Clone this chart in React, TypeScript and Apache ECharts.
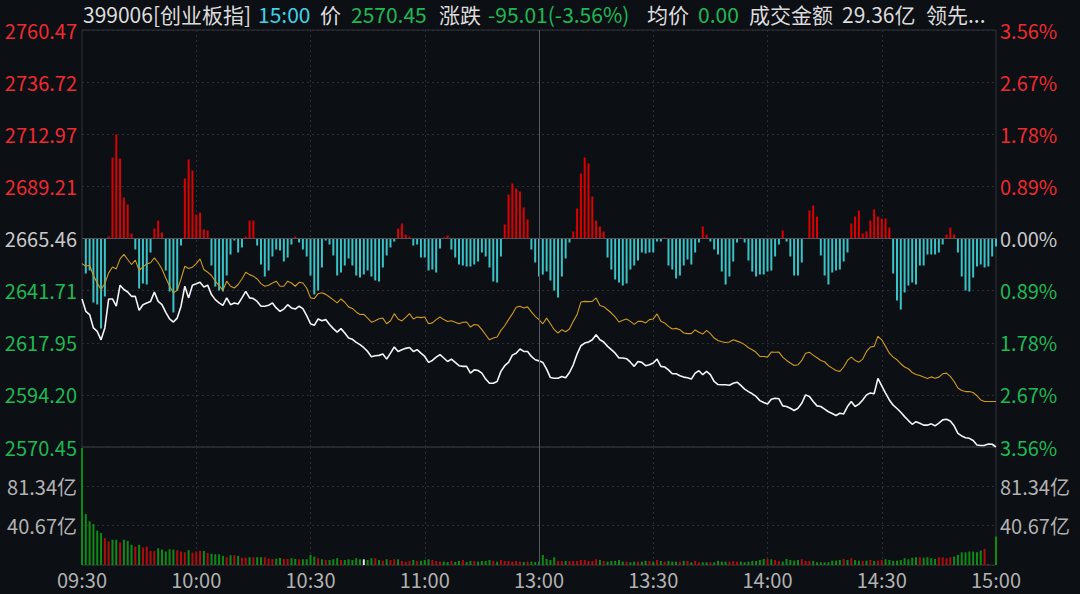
import { useEffect, useRef } from "react";
import * as echarts from "echarts";

// ---------- data ----------
const priceTicks = ["2760.47", "2736.72", "2712.97", "2689.21", "2665.46", "2641.71", "2617.95", "2594.20", "2570.45"];
const pctTicks = ["3.56%", "2.67%", "1.78%", "0.89%", "0.00%", "0.89%", "1.78%", "2.67%", "3.56%"];
const volumeTicks = ["40.67亿", "81.34亿"];
const timeTicks = ["09:30", "10:00", "10:30", "11:00", "13:00", "13:30", "14:00", "14:30", "15:00"];
const priceMin = 2570.45;
const priceMax = 2760.47;
const volumeStep = 40.67;
const volumeMax = 122.01;
const leadRange = 208.5;

const headerTexts = [
  { text: "399006[创业板指]", kind: "label" },
  { text: "15:00", kind: "time" },
  { text: "价", kind: "label" },
  { text: "2570.45", kind: "down" },
  { text: "涨跌", kind: "label" },
  { text: "-95.01(-3.56%)", kind: "down" },
  { text: "均价", kind: "label" },
  { text: "0.00", kind: "down" },
  { text: "成交金额", kind: "label" },
  { text: "29.36亿", kind: "label" },
  { text: "领先...", kind: "label" },
];

const prices = [
  2637.9, 2632.3, 2630.8, 2624.7, 2623.1, 2619.3, 2624.7, 2637.9, 2637.9, 2634.6,
  2644.2, 2642.2, 2641.1, 2639.1, 2639.1, 2632.7, 2635.3, 2636.1, 2636.8, 2641.0,
  2636.8, 2635.3, 2631.8, 2628.8, 2627.4, 2629.2, 2634.6, 2643.7, 2638.4, 2644.2,
  2644.8, 2645.5, 2643.4, 2644.2, 2639.9, 2637.6, 2636.1, 2635.0, 2638.4, 2635.3,
  2636.1, 2635.6, 2638.4, 2641.4, 2638.4, 2638.1, 2636.8, 2634.6, 2634.6, 2635.0,
  2636.1, 2633.8, 2632.3, 2633.3, 2635.3, 2633.8, 2633.3, 2634.6, 2633.5, 2630.3,
  2626.6, 2625.9, 2628.8, 2628.0, 2628.5, 2626.3, 2624.4, 2622.8, 2624.4, 2622.4,
  2620.1, 2619.5, 2618.1, 2617.1, 2615.7, 2614.0, 2611.6, 2612.0, 2612.2, 2612.8,
  2610.5, 2613.2, 2616.0, 2614.0, 2614.8, 2615.4, 2615.8, 2614.0, 2614.8, 2613.2,
  2611.7, 2609.0, 2609.9, 2611.4, 2612.5, 2611.0, 2609.4, 2610.5, 2609.0, 2607.5,
  2607.2, 2607.2, 2604.1, 2605.6, 2605.3, 2604.1, 2601.4, 2599.5, 2599.5, 2600.3,
  2604.9, 2607.5, 2609.0, 2612.3, 2613.2, 2615.1, 2614.0, 2614.0, 2611.7, 2610.2,
  2609.7, 2609.0, 2605.9, 2602.1, 2601.8, 2601.8, 2602.6, 2602.0, 2604.4, 2607.9,
  2612.8, 2616.6, 2617.8, 2618.3, 2619.3, 2621.6, 2619.3, 2618.3, 2616.3, 2614.8,
  2613.2, 2611.0, 2611.0, 2610.7, 2609.1, 2607.2, 2609.4, 2609.0, 2607.5, 2607.9,
  2608.7, 2610.5, 2607.2, 2606.9, 2605.6, 2603.8, 2603.8, 2602.9, 2602.3, 2602.0,
  2601.4, 2604.1, 2605.2, 2603.4, 2604.9, 2603.4, 2600.3, 2598.9, 2598.8, 2598.8,
  2598.6, 2599.5, 2600.0, 2598.5, 2596.8, 2595.7, 2594.7, 2593.5, 2591.6, 2590.7,
  2590.0, 2592.2, 2592.7, 2592.4, 2589.2, 2588.9, 2588.1, 2587.1, 2588.1, 2590.4,
  2594.2, 2593.5, 2591.2, 2589.2, 2588.9, 2587.7, 2586.5, 2585.7, 2584.8, 2585.8,
  2585.5, 2588.9, 2591.2, 2588.9, 2590.0, 2591.9, 2594.2, 2595.1, 2594.7, 2601.7,
  2598.3, 2595.0, 2591.9, 2589.5, 2588.0, 2586.3, 2584.3, 2582.5, 2580.8, 2582.0,
  2581.3, 2580.4, 2580.4, 2581.0, 2580.1, 2581.3, 2582.8, 2583.1, 2582.3, 2580.1,
  2576.7, 2575.5, 2574.7, 2574.4, 2573.4, 2571.4, 2571.1, 2571.2, 2571.8, 2571.7,
  2570.45,
];

const avgLine = [
  2654.0, 2652.8, 2653.3, 2648.6, 2645.2, 2642.2, 2644.9, 2649.8, 2652.5, 2651.6,
  2656.2, 2658.2, 2655.9, 2653.6, 2655.6, 2651.0, 2652.5, 2653.9, 2654.4, 2656.6,
  2654.4, 2651.6, 2647.5, 2643.7, 2640.7, 2641.9, 2647.0, 2652.8, 2651.8, 2652.4,
  2654.0, 2656.2, 2651.3, 2650.1, 2648.6, 2646.0, 2644.0, 2641.9, 2646.0, 2643.7,
  2642.9, 2644.5, 2647.0, 2650.1, 2649.0, 2648.3, 2647.0, 2644.9, 2643.7, 2644.2,
  2645.2, 2646.0, 2643.7, 2643.7, 2646.0, 2645.2, 2643.7, 2645.5, 2645.2, 2642.9,
  2638.4, 2638.1, 2640.3, 2640.7, 2640.0, 2638.8, 2637.5, 2636.1, 2637.9, 2636.4,
  2634.3, 2633.6, 2632.0, 2630.8, 2630.9, 2629.2, 2627.3, 2628.0, 2628.9, 2629.2,
  2626.6, 2628.0, 2631.2, 2628.8, 2627.9, 2629.5, 2631.2, 2628.8, 2629.7, 2629.4,
  2629.7, 2626.6, 2627.0, 2628.5, 2629.7, 2628.5, 2627.6, 2628.0, 2627.3, 2626.6,
  2627.3, 2627.4, 2625.1, 2626.3, 2626.0, 2623.9, 2621.6, 2619.3, 2620.1, 2620.6,
  2623.6, 2625.7, 2628.5, 2631.1, 2634.1, 2634.6, 2633.8, 2634.3, 2632.0, 2630.0,
  2628.5, 2626.6, 2629.2, 2626.6, 2623.9, 2622.4, 2623.9, 2623.0, 2624.2, 2627.7,
  2630.8, 2636.5, 2636.8, 2636.7, 2636.8, 2638.4, 2634.9, 2634.4, 2633.0, 2631.5,
  2629.7, 2627.4, 2628.2, 2628.8, 2627.7, 2626.3, 2627.7, 2627.7, 2627.0, 2628.5,
  2628.8, 2631.1, 2627.7, 2627.0, 2625.4, 2624.2, 2624.5, 2623.9, 2622.4, 2622.1,
  2622.1, 2623.8, 2622.7, 2621.9, 2623.6, 2622.1, 2620.1, 2619.0, 2618.4, 2618.1,
  2618.3, 2619.3, 2618.7, 2618.1, 2617.1, 2615.7, 2614.8, 2613.6, 2611.7, 2611.7,
  2611.4, 2613.7, 2613.6, 2613.7, 2611.4, 2609.9, 2608.7, 2607.6, 2607.9, 2609.9,
  2613.2, 2613.6, 2612.3, 2611.1, 2609.9, 2609.3, 2607.5, 2606.4, 2605.3, 2604.9,
  2606.9, 2609.9, 2611.4, 2609.9, 2609.1, 2610.5, 2614.0, 2616.0, 2616.3, 2620.9,
  2619.3, 2616.3, 2613.2, 2611.4, 2610.2, 2608.4, 2606.9, 2606.1, 2604.4, 2603.5,
  2603.0, 2602.3, 2601.7, 2602.4, 2601.8, 2602.3, 2603.8, 2604.1, 2602.6, 2600.3,
  2597.3, 2596.2, 2595.7, 2595.7, 2595.3, 2593.8, 2591.9, 2591.2, 2591.2, 2591.2,
  2591.2,
];

const leadValues = [
  0, -35, -32, -64, -66, -90, -58, 2, 81, 104,
  80, 41, 34, 5, -11, -50, -45, -46, -14, 10,
  18, 6, -32, -53, -74, -52, -7, 60, 79, 68,
  24, 26, 9, 8, -27, -48, -52, -53, -37, -16,
  -2, -14, -9, 2, 18, 18, -7, -26, -38, -32,
  -18, -11, -12, -23, -19, -6, 2, -4, -11, -18,
  -37, -56, -52, -29, -2, -6, -17, -37, -34, -27,
  -20, -27, -37, -39, -36, -32, -38, -42, -43, -29,
  -17, -9, -3, 10, 15, 4, 2, -7, -6, -19,
  -19, -32, -31, -34, -10, 1, 3, -11, -19, -26,
  -27, -28, -28, -26, -23, -14, -18, -29, -43, -44,
  -18, 14, 44, 55, 50, 47, 31, 19, -11, -24,
  -38, -36, -33, -42, -52, -59, -38, -20, -4, 7,
  30, 65, 81, 75, 42, 18, 12, 7, -19, -31,
  -41, -44, -47, -45, -31, -27, -22, -14, -15, -14,
  -14, -3, -3, 1, -27, -31, -40, -37, -27, -21,
  -26, -14, -4, 12, 4, -3, -11, -16, -33, -46,
  -38, -23, -4, 1, -4, -22, -33, -38, -36, -36,
  -33, -32, -18, -6, 8, -3, -18, -37, -37, -24,
  0, 28, 33, 22, -17, -37, -46, -34, -32, -31,
  -23, -14, 15, 22, 28, 5, 7, 18, 29, 22,
  20, 20, 11, -35, -62, -71, -54, -47, -44, -46,
  -27, -27, -16, -16, -16, -14, -6, 4, 11, 4,
  -14, -38, -52, -53, -39, -28, -26, -29, -28, -18,
  -8,
];

// turnover per minute, 亿
const volumes = [
  121, 52.8, 45.2, 42.4, 35.5, 33.0, 27.8, 24.3, 26.1, 26.1,
  23.3, 26.1, 25.0, 20.9, 19.1, 20.9, 18.1, 19.1, 14.6, 14.6,
  17.4, 16.0, 13.9, 16.3, 16.0, 15.3, 13.9, 13.2, 15.3, 12.9,
  13.9, 14.6, 14.6, 12.5, 11.5, 11.1, 11.1, 9.4, 8.0, 10.1,
  10.1, 9.4, 7.6, 7.6, 8.0, 8.0, 8.0, 8.0, 8.0, 6.6,
  6.3, 6.6, 7.3, 6.3, 6.3, 7.0, 6.3, 5.9, 5.9, 5.9,
  10.4, 8.7, 7.0, 5.9, 5.2, 5.2, 5.9, 7.0, 5.2, 5.2,
  5.9, 5.2, 7.0, 5.9, 5.9, 5.2, 7.0, 7.0, 5.2, 4.5,
  5.9, 5.2, 5.9, 5.9, 4.2, 3.5, 4.2, 5.2, 4.2, 4.5,
  5.2, 5.9, 5.2, 4.2, 3.5, 3.5, 3.1, 4.2, 3.1, 4.2,
  5.2, 3.1, 4.2, 4.2, 3.5, 4.2, 4.2, 5.2, 4.5, 3.5,
  5.2, 4.2, 4.2, 3.5, 4.2, 3.5, 3.1, 3.5, 3.5, 3.1,
  3.5, 10.4, 6.3, 5.2, 8.0, 4.2, 4.2, 4.2, 4.2, 4.2,
  4.2, 5.2, 5.2, 4.2, 4.2, 5.9, 5.2, 4.2, 3.5, 4.2,
  4.2, 5.2, 3.5, 3.5, 2.8, 3.5, 3.5, 3.5, 4.2, 4.2,
  3.5, 5.2, 4.2, 3.5, 4.2, 3.5, 3.5, 3.5, 4.2, 4.2,
  2.8, 4.2, 2.8, 2.8, 2.8, 2.8, 2.8, 4.2, 3.5, 3.5,
  3.5, 4.2, 3.5, 3.5, 2.8, 3.5, 4.2, 4.2, 5.2, 6.3,
  6.3, 5.9, 5.2, 4.2, 3.5, 6.3, 5.2, 4.5, 5.2, 5.9,
  4.2, 4.2, 4.2, 2.8, 2.8, 2.8, 2.8, 4.5, 4.5, 5.2,
  6.3, 5.2, 7.0, 5.2, 4.5, 4.2, 4.5, 5.2, 4.2, 4.5,
  5.2, 5.9, 5.2, 4.2, 4.5, 5.2, 7.0, 5.9, 7.6, 8.0,
  8.0, 7.6, 8.0, 7.0, 6.3, 8.0, 8.0, 7.0, 8.0, 8.7,
  10.4, 13.2, 13.2, 13.9, 13.9, 13.2, 14.9, 16.7, 1.0, 0,
  29.36,
];

// 1 = up (red), -1 = down (green), 0 = flat (white)
const volumeDirection = [
  -1, -1, -1, -1, -1, -1, 1, 1, -1, -1,
  1, -1, -1, -1, 1, -1, 1, 1, 1, 1,
  -1, -1, -1, -1, -1, 1, 1, 1, -1, 1,
  1, 1, -1, 1, -1, -1, -1, -1, 1, -1,
  1, -1, 1, 1, -1, 1, -1, -1, 1, 1,
  1, -1, -1, 1, 1, -1, -1, 1, -1, -1,
  -1, -1, 1, -1, 1, -1, -1, -1, 1, -1,
  -1, -1, -1, -1, 0, -1, -1, 1, -1, 1,
  -1, 1, 1, -1, 1, 1, 1, -1, 1, -1,
  -1, -1, 1, 1, 1, -1, -1, 1, -1, -1,
  1, -1, -1, 1, -1, -1, -1, -1, 1, -1,
  1, 1, 1, 1, 1, 1, -1, 1, -1, -1,
  -1, -1, -1, -1, -1, 1, 1, -1, 1, 1,
  1, 1, 1, 1, 1, 1, -1, 1, -1, -1,
  -1, -1, -1, 1, -1, -1, 1, -1, -1, 1,
  -1, 1, -1, 1, -1, -1, -1, 1, -1, 1,
  -1, 1, 1, -1, -1, 1, -1, -1, -1, -1,
  1, 1, 1, -1, -1, -1, -1, -1, -1, -1,
  1, -1, 1, 1, -1, -1, -1, -1, -1, 1,
  1, 1, -1, -1, -1, -1, -1, -1, -1, -1,
  1, -1, 1, -1, -1, 1, -1, 1, -1, 1,
  1, -1, -1, -1, -1, -1, -1, -1, -1, -1,
  1, -1, -1, -1, -1, 1, 1, 1, 1, -1,
  -1, -1, -1, -1, -1, -1, -1, 1, 1, -1,
  -1,
];

// ---------- styles ----------
const BG = "#0c0f14";
const GRID = "#2b2e34";
const BORDER = "#2f3237";
const SEP = "#56595f";
const ZERO = "#51545a";
const UP_TEXT = "#ee2a2e";
const DOWN_TEXT = "#1db954";
const NEUTRAL_TEXT = "#c9c9c9";
const AXIS_TEXT = "#b2b2b2";
const LABEL_TEXT = "#dcdcdc";
const TIME_TEXT = "#3fd3ea";
const LEAD_UP = "#dc0000";
const LEAD_DOWN = "#38c3c7";
const VOL_UP = "#b00d0d";
const VOL_DOWN = "#0f8b14";
const VOL_FLAT = "#e6e6e6";
const PRICE_COLOR = "#f4f4f4";
const AVG_COLOR = "#d09a1c";
const FONT = '"Noto Sans CJK SC", "Noto Sans", sans-serif';

const headerX = [83, 258, 320, 351, 439, 488, 647, 698, 749, 842, 926];
const headerColors: Record<string, string> = { label: LABEL_TEXT, time: TIME_TEXT, down: DOWN_TEXT };

const times: string[] = [];
for (let i = 0; i < prices.length; i++) {
  const m = i <= 120 ? 9 * 60 + 30 + i : 13 * 60 + (i - 120);
  times.push(String(Math.floor(m / 60)).padStart(2, "0") + ":" + String(m % 60).padStart(2, "0"));
}

const isTick = (i: number) => i % 30 === 0;
const tickColor = (v: any) => {
  const n = Number(v);
  return n > 0 ? UP_TEXT : n < 0 ? DOWN_TEXT : NEUTRAL_TEXT;
};
const dotted = { color: GRID, type: [2, 3] as any, width: 1 };

export default function App() {
  const ref = useRef<HTMLDivElement>(null);
  useEffect(() => {
    if (!ref.current) return;
    const chart = echarts.init(ref.current, null, { renderer: "svg" });
    const sepLine = {
      silent: true,
      symbol: "none",
      label: { show: false },
      lineStyle: { color: SEP, type: "solid", width: 1 },
      data: [{ xAxis: times[120] }],
    };
    const option: any = {
      animation: false,
      backgroundColor: BG,
      textStyle: { fontFamily: FONT },
      grid: [
        { left: 82, right: 84, top: 30, height: 417, show: true, borderColor: BORDER, borderWidth: 1, backgroundColor: "transparent" },
        { left: 82, right: 84, top: 447, height: 118, show: true, borderColor: BORDER, borderWidth: 1, backgroundColor: "transparent" },
      ],
      xAxis: [
        {
          type: "category", gridIndex: 0, data: times, boundaryGap: false,
          axisLine: { show: false }, axisTick: { show: false }, axisLabel: { show: false },
          splitLine: { show: true, interval: (i: number) => isTick(i) && i > 0 && i < 240 && i !== 120, lineStyle: dotted },
        },
        {
          type: "category", gridIndex: 1, data: times, boundaryGap: false,
          axisLine: { show: false }, axisTick: { show: false },
          axisLabel: {
            interval: (i: number) => isTick(i),
            formatter: (_v: string, i: number) => (isTick(i) ? timeTicks[i / 30] : ""),
            color: AXIS_TEXT, fontSize: 20, margin: 4, fontFamily: FONT,
          },
          splitLine: { show: true, interval: (i: number) => isTick(i) && i > 0 && i < 240 && i !== 120, lineStyle: dotted },
        },
      ],
      yAxis: [
        { type: "value", gridIndex: 0, min: priceMin, max: priceMax, show: false },
        {
          type: "value", gridIndex: 0, min: -4, max: 4, interval: 1, position: "left",
          axisLine: { show: false }, axisTick: { show: false },
          axisLabel: { formatter: (v: number) => priceTicks[4 - Math.round(v)], color: tickColor, fontSize: 20, margin: 5, fontFamily: FONT },
          splitLine: { show: true, lineStyle: dotted },
        },
        {
          type: "value", gridIndex: 0, min: -4, max: 4, interval: 1, position: "right",
          axisLine: { show: false }, axisTick: { show: false },
          axisLabel: { formatter: (v: number) => pctTicks[4 - Math.round(v)], color: tickColor, fontSize: 20, margin: 4, fontFamily: FONT },
          splitLine: { show: false },
        },
        { type: "value", gridIndex: 0, min: -leadRange, max: leadRange, show: false },
        {
          type: "value", gridIndex: 1, min: 0, max: volumeMax, interval: volumeStep, position: "left",
          axisLine: { show: false }, axisTick: { show: false },
          axisLabel: {
            formatter: (v: number) => { const k = Math.round(v / volumeStep); return k === 1 || k === 2 ? volumeTicks[k - 1] : ""; },
            color: AXIS_TEXT, fontSize: 20, margin: 5, fontFamily: FONT,
          },
          splitLine: { show: true, lineStyle: dotted },
        },
        {
          type: "value", gridIndex: 1, min: 0, max: volumeMax, interval: volumeStep, position: "right",
          axisLine: { show: false }, axisTick: { show: false },
          axisLabel: {
            formatter: (v: number) => { const k = Math.round(v / volumeStep); return k === 1 || k === 2 ? volumeTicks[k - 1] : ""; },
            color: AXIS_TEXT, fontSize: 20, margin: 4, fontFamily: FONT,
          },
          splitLine: { show: false },
        },
      ],
      series: [
        {
          name: "lead", type: "bar", xAxisIndex: 0, yAxisIndex: 3, data: leadValues, barWidth: 2, z: 1,
          itemStyle: { color: (p: any) => (p.value >= 0 ? LEAD_UP : LEAD_DOWN) },
          markLine: {
            silent: true, symbol: "none", label: { show: false },
            lineStyle: { color: ZERO, type: "solid", width: 1 },
            data: [{ yAxis: 0 }],
          },
        },
        {
          name: "avg", type: "line", xAxisIndex: 0, yAxisIndex: 0, data: avgLine, showSymbol: false, symbol: "none", z: 3,
          lineStyle: { color: AVG_COLOR, width: 1.1 },
        },
        {
          name: "price", type: "line", xAxisIndex: 0, yAxisIndex: 0, data: prices, showSymbol: false, symbol: "none", z: 4,
          lineStyle: { color: PRICE_COLOR, width: 1.6 },
          markLine: sepLine,
        },
        {
          name: "volume", type: "bar", xAxisIndex: 1, yAxisIndex: 4, data: volumes, barWidth: 2, z: 2,
          itemStyle: {
            color: (p: any) => {
              const d = volumeDirection[p.dataIndex];
              return d > 0 ? VOL_UP : d < 0 ? VOL_DOWN : VOL_FLAT;
            },
          },
          markLine: sepLine,
        },
      ],
      graphic: headerTexts.map((h, i) => ({
        type: "text",
        x: headerX[i],
        y: 14,
        silent: true,
        style: {
          text: h.text,
          fill: headerColors[h.kind],
          fontSize: 21,
          fontFamily: FONT,
          verticalAlign: "middle",
        },
      })),
    };
    chart.setOption(option);
    return () => chart.dispose();
  }, []);
  return <div ref={ref} style={{ position: "fixed", left: 0, top: 0, width: 1080, height: 594 }} />;
}
